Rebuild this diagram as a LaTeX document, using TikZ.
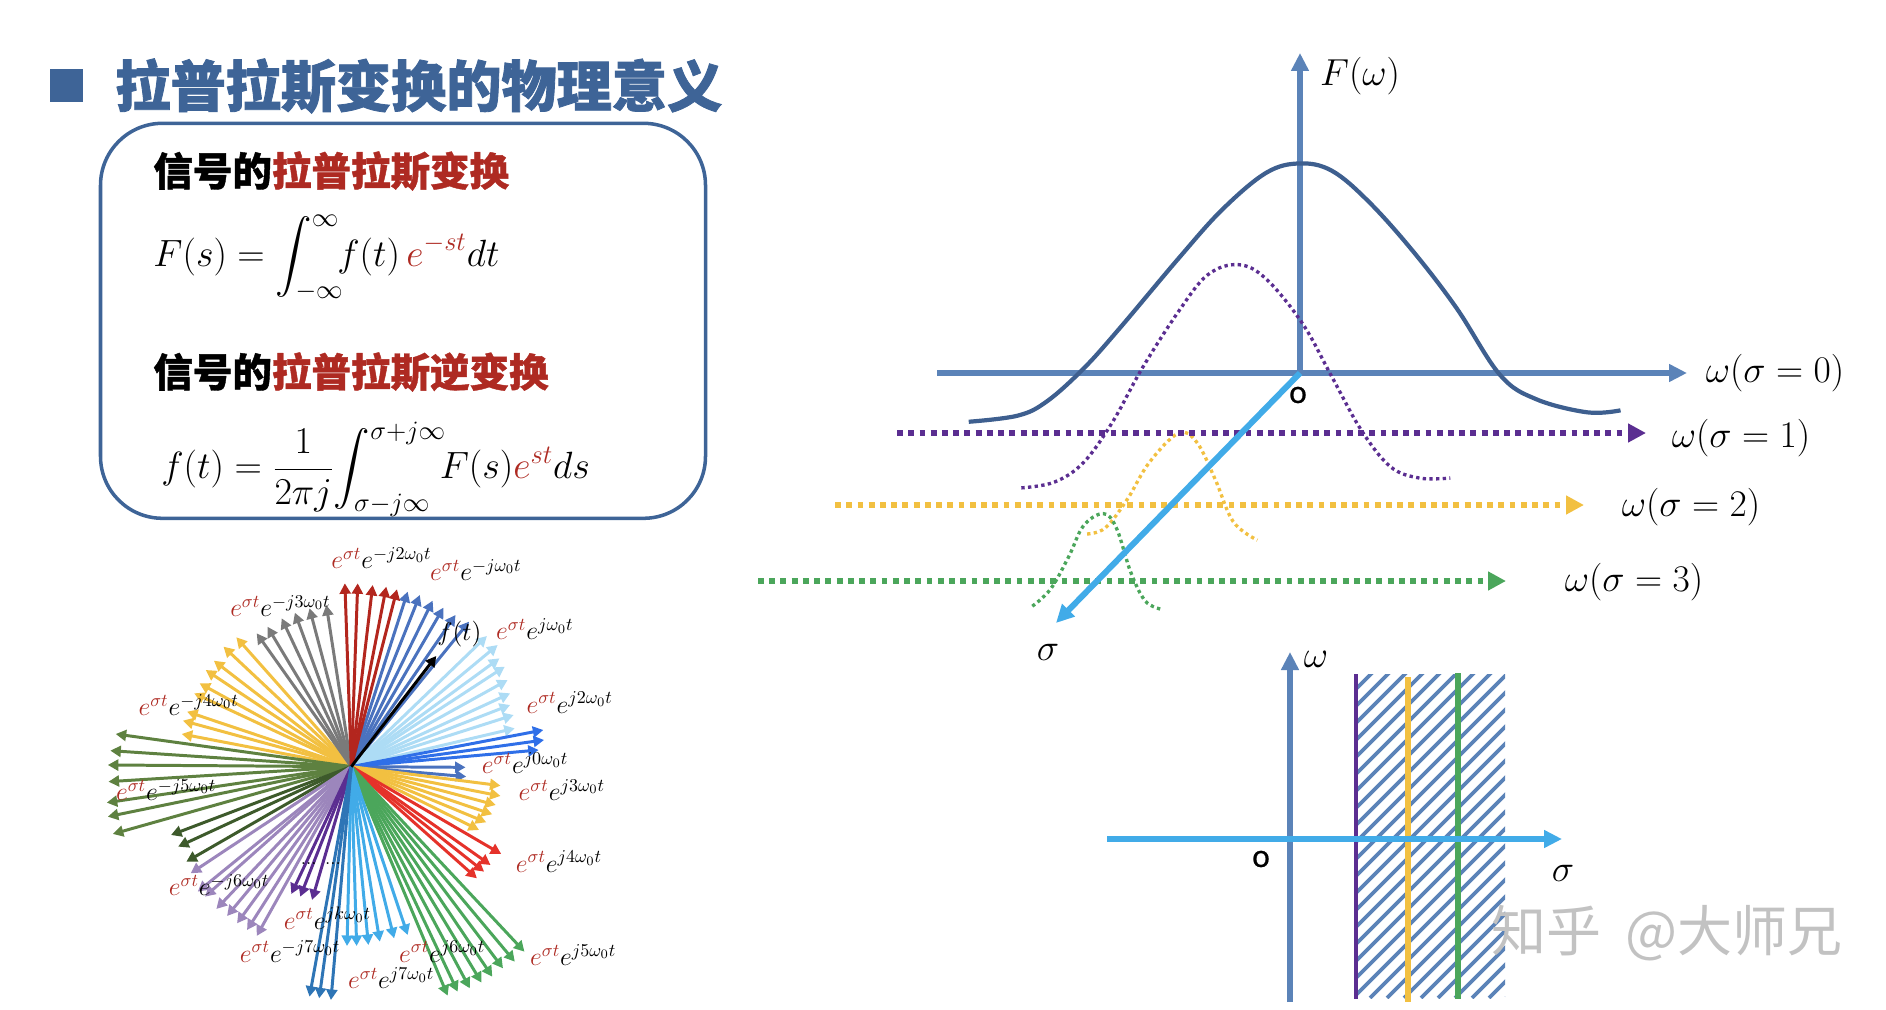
\documentclass[tikz,border=0pt]{standalone}
\usepackage{fix-cm}
\usepackage{amsmath}
\usepackage{fontspec}
\newfontfamily\cjk{Noto Sans CJK SC}
\newfontfamily\carlito{Carlito}
\usepackage{xcolor}
\usepackage{tikz}
\usetikzlibrary{positioning,arrows.meta}
\definecolor{TitleBlue}{HTML}{3E6497}
\definecolor{CurveBlue}{HTML}{3E5F8F}
\definecolor{AxisBlue}{HTML}{5B83B8}
\definecolor{SkyBlue}{HTML}{41ABE8}
\definecolor{Brick}{HTML}{AE2A22}
\definecolor{Plum}{HTML}{5B2E91}
\definecolor{Amber}{HTML}{F2C041}
\definecolor{Leaf}{HTML}{4BA65B}
\definecolor{FanRed}{HTML}{B3261E}
\definecolor{FanBlue}{HTML}{4A72BE}
\definecolor{FanIce}{HTML}{ADDCF5}
\definecolor{FanVivid}{HTML}{2F6FE8}
\definecolor{FanScarlet}{HTML}{E5322A}
\definecolor{FanDeep}{HTML}{2E75B6}
\definecolor{FanLilac}{HTML}{9C86BC}
\definecolor{FanPine}{HTML}{3D5A2B}
\definecolor{FanOlive}{HTML}{5E8140}
\definecolor{FanGrey}{HTML}{7A7A7A}
\definecolor{Mark}{HTML}{C2C2C2}
\newcommand{\fanarrows}[2]{\foreach \X/\Y in {#2} \draw[fan,#1] (o) -- (\X,\Y);}
\newcommand{\expterm}[1]{$\textcolor{Brick}{e^{\sigma t}}e^{#1\omega_0 t}$}
\begin{document}
\begin{tikzpicture}[x=0.02cm,y=-0.02cm]
\tikzstyle{fan}=[line width=1.7pt,-{Triangle[length=2.1mm,width=2.2mm]}]
\tikzstyle{fanlabel}=[anchor=west,inner sep=0pt,font=\fontsize{14.7pt}{17pt}\selectfont]
\tikzstyle{heading}=[anchor=west,inner sep=0pt,font=\cjk\bfseries\addfontfeature{FakeBold=1}\fontsize{22.5pt}{26pt}\selectfont]
\tikzstyle{formula}=[anchor=west,inner sep=0pt,font=\fontsize{21.6pt}{25pt}\selectfont]
\tikzstyle{axislabel}=[inner sep=0pt,font=\fontsize{21.4pt}{25pt}\selectfont]
\tikzstyle{origin}=[inner sep=0pt,font=\carlito\addfontfeature{FakeBold=0.6}\fontsize{19pt}{23pt}\selectfont]
\tikzstyle{axis}=[line width=3.4pt,AxisBlue,-{Triangle[length=3.6mm,width=3.4mm]}]
\tikzstyle{skyaxis}=[axis,SkyBlue]
\tikzstyle{dotaxis}=[line width=3.2pt,dash pattern=on 3.3pt off 3.1pt,-{Triangle[length=3.6mm,width=3.6mm]}]
\tikzstyle{dotcurve}=[line width=1.9pt,dash pattern=on 1.9pt off 1.9pt]
\tikzstyle{hatch}=[line width=2.1pt,AxisBlue]
\tikzstyle{strip}=[line width=3.4pt]
\useasboundingbox (0,0) rectangle (1886,1010);
% title
\fill[TitleBlue] (49.5,69) rectangle (82.6,102);
\node[anchor=west,inner sep=0pt,TitleBlue,font=\cjk\bfseries\addfontfeature{FakeBold=1.5}\fontsize{31.4pt}{35pt}\selectfont] (title) at (115,86) {拉普拉斯变换的物理意义};
% box with the two formulas
\draw[TitleBlue,line width=2pt,rounded corners=1.24cm] (100.5,123.3) rectangle (705.5,518.3);
\node[heading] (headA) at (153,171) {信号的\textcolor{Brick}{拉普拉斯变换}};
\node[formula] (formA) at (153,258) {$\displaystyle F(s)=\int_{-\infty}^{\infty}\!\!f(t)\,\textcolor{Brick}{e^{-st}}dt$};
\node[heading] (headB) at (153,372) {信号的\textcolor{Brick}{拉普拉斯逆变换}};
\node[formula] (formB) at (161,469) {$\displaystyle f(t)=\frac{1}{2\pi j}\!\int_{\sigma-j\infty}^{\sigma+j\infty}\!\!F(s)\textcolor{Brick}{e^{st}}ds$};
% fan of arrows
\begin{scope}[shift={(80,530)},x=0.0071429cm,y=-0.0066667cm]
\coordinate (o) at (760,710);
\fanarrows{Amber}{285/612,288/572,300/545,320/490,335/460,352/420,375/392,402/350,438/322}
\fanarrows{FanGrey}{495/310,525/290,565/265,602/248,643/235,690/225}
\fanarrows{FanOlive}{92/912,78/860,75/818,80/755,78/705,85/662,100/612}
\fanarrows{FanPine}{298/995,275/950,255/915}
\fanarrows{FanLilac}{495/1218,468/1200,440/1180,412/1158,382/1137,350/1100,330/1085,310/1030}
\fanarrows{Plum}{650/1110,617/1100,592/1092}
\fanarrows{FanBlue}{918/185,952/195,988/212,1018/233,1052/255,1090/275,1080/712,1082/740}
\fanarrows{FanRed}{742/160,778/160,820/165,858/170,888/178}
\fanarrows{FanIce}{1140/318,1170/345,1175/385,1190/410,1198/450,1205/490,1205/525,1215/555,1218/595}
\fanarrows{FanVivid}{1298/600,1300/630,1285/660}
\fanarrows{Amber}{1178/767,1178/798,1165/825,1155/853,1138/877,1118/900}
\fanarrows{FanScarlet}{1180/972,1150/1005,1132/1025,1112/1045}
\fanarrows{Leaf}{1245/1265,1218/1295,1185/1315,1155/1340,1125/1358,1092/1375,1058/1385,1030/1397}
\fanarrows{SkyBlue}{918/1215,880/1225,840/1235,808/1245,775/1248,748/1248}
\fanarrows{FanDeep}{703/1410,670/1405,643/1400}
\fanarrows{black}{998/378}
\node[fanlabel] (termA) at (703,85) {\expterm{-j2}};
\node[fanlabel] (termB) at (980,120) {\expterm{-j}};
\node[fanlabel] (termC) at (420,228) {\expterm{-j3}};
\node[fanlabel] (termD) at (1165,298) {\expterm{j}};
\node[fanlabel] (termE) at (163,525) {\expterm{-j4}};
\node[fanlabel] (termF) at (1250,518) {\expterm{j2}};
\node[fanlabel] (termG) at (1125,700) {\expterm{j0}};
\node[fanlabel] (termH) at (100,780) {\expterm{-j5}};
\node[fanlabel] (termI) at (1228,780) {\expterm{j3}};
\node[fanlabel] (termJ) at (1220,995) {\expterm{j4}};
\node[fanlabel] (termK) at (248,1065) {\expterm{-j6}};
\node[fanlabel] (termL) at (570,1165) {\expterm{jk}};
\node[fanlabel] (termM) at (447,1265) {\expterm{-j7}};
\node[fanlabel] (termN) at (893,1265) {\expterm{j6}};
\node[fanlabel] (termO) at (1260,1275) {\expterm{j5}};
\node[fanlabel] (termP) at (750,1345) {\expterm{j7}};
\node[fanlabel] (ft) at (1000,312) {$f(t)$};
\node[fanlabel,font=\fontsize{11pt}{12pt}\selectfont] (dots) at (618,1000) {... ...};
\end{scope}
% upper axes
\coordinate (top) at (1300,53);
\coordinate (origA) at (1300,373);
\coordinate (leftA) at (937,373);
\coordinate (rightA) at (1687,373);
\coordinate (sigA) at (1056,623);
\draw[axis] (origA) -- (top);
\draw[axis] (leftA) -- (rightA);
\begin{scope}[shift={(740,30)},x=0.014620cm,y=-0.0081633cm]
\draw[CurveBlue,line width=2.4pt] plot[smooth,tension=.6] coordinates {(313,960) (380,945) (420,910) (470,830) (520,730) (600,560) (660,440) (720,350) (766,327) (810,345) (860,420) (920,540) (980,680) (1040,845) (1090,905) (1160,937) (1205,932)};
\draw[dotcurve,Plum] plot[smooth,tension=.6] coordinates {(385,1122) (430,1108) (470,1060) (510,960) (550,830) (600,690) (640,600) (682,575) (720,610) (770,720) (810,850) (850,980) (890,1070) (930,1098) (972,1098)};
\draw[dotcurve,Amber] plot[smooth,tension=.6] coordinates {(475,1235) (500,1220) (530,1150) (560,1060) (600,988) (625,1010) (650,1100) (675,1205) (708,1250)};
\draw[dotcurve,Leaf] plot[smooth,tension=.6] coordinates {(400,1412) (425,1370) (450,1290) (470,1215) (497,1185) (515,1220) (535,1330) (555,1400) (578,1420)};
\end{scope}
\coordinate (plumL) at (897,433);
\coordinate (plumR) at (1646,433);
\coordinate (amberL) at (835,505);
\coordinate (amberR) at (1584,505);
\coordinate (leafL) at (758,581);
\coordinate (leafR) at (1506,581);
\draw[dotaxis,Plum] (plumL) -- (plumR);
\draw[dotaxis,Amber] (amberL) -- (amberR);
\draw[dotaxis,Leaf] (leafL) -- (leafR);
\draw[skyaxis] (origA) -- (sigA);
\node[axislabel] (Fw) at (1360,76) {$F(\omega)$};
\node[origin] (oA) at (1298,395) {o};
\node[axislabel] (wA) at (1775,373) {$\omega(\sigma=0)$};
\node[axislabel] (wB) at (1741,438) {$\omega(\sigma=1)$};
\node[axislabel] (wC) at (1691,507) {$\omega(\sigma=2)$};
\node[axislabel] (wD) at (1634,582) {$\omega(\sigma=3)$};
\node[axislabel] (sA) at (1048,652) {$\sigma$};
% lower axes with the hatched strip
\begin{scope}
\clip (1354,674) rectangle (1505,998);
\foreach \i in {0,...,29} \draw[hatch] (1030+17*\i,998) -- +(330,-330);
\end{scope}
\coordinate (plumT) at (1356,674);
\coordinate (plumB) at (1356,999);
\coordinate (amberT) at (1408,677);
\coordinate (amberB) at (1408,1002);
\coordinate (leafT) at (1458,673);
\coordinate (leafB) at (1458,999);
\draw[strip,Plum,line width=2.6pt] (plumT) -- (plumB);
\draw[strip,Amber] (amberT) -- (amberB);
\draw[strip,Leaf] (leafT) -- (leafB);
\coordinate (bot) at (1290,1002);
\coordinate (topB) at (1290,652);
\coordinate (leftB) at (1107,839);
\coordinate (rightB) at (1562,839);
\draw[axis] (bot) -- (topB);
\draw[skyaxis] (leftB) -- (rightB);
\node[axislabel] (wE) at (1316,659) {$\omega$};
\node[origin] (oB) at (1261,859) {o};
\node[axislabel] (sB) at (1563,873) {$\sigma$};
% watermark
\node[anchor=west,inner sep=0pt,Mark,font=\cjk\fontsize{31.3pt}{35pt}\selectfont] (mark) at (1491,933) {知乎\hspace{4.9mm}@大师兄};
\end{tikzpicture}
\end{document}
